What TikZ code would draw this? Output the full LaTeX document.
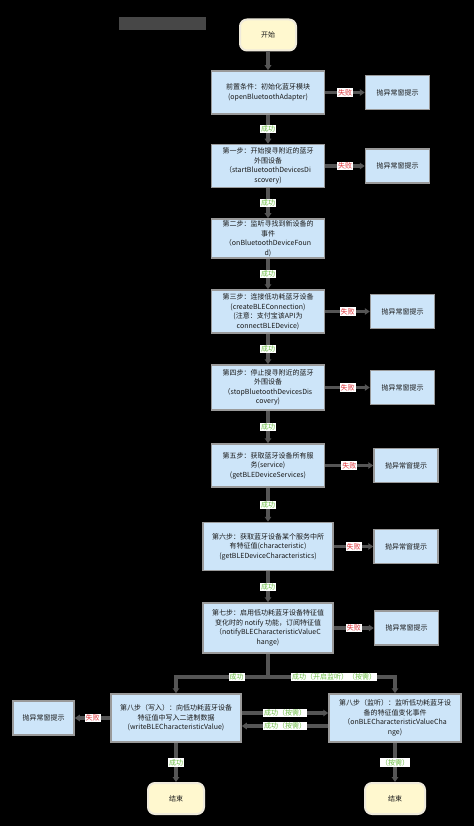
\documentclass[tikz,border=0pt]{standalone}
\usepackage{fontspec}
\setmainfont{Noto Sans CJK SC}
\usepackage{xcolor}
\usetikzlibrary{arrows.meta}
\definecolor{boxblue}{HTML}{CDE5F9}
\definecolor{boxline}{HTML}{9A9A9A}
\definecolor{termyellow}{HTML}{FFF8CF}
\definecolor{termline}{HTML}{EFEADB}
\definecolor{linkgray}{HTML}{555555}
\definecolor{okgreen}{HTML}{6DBE45}
\definecolor{badred}{HTML}{E0353B}

\begin{document}
\begin{tikzpicture}[x=1pt, y=-1pt, font=\fontsize{7}{9.5}\selectfont,
    stepbox/.style = {draw=boxline, line width=1.5pt, fill=boxblue, align=center,
      text=black!90, inner sep=1pt, minimum width=113pt, minimum height=43pt},
    widebox/.style = {stepbox, minimum width=130pt, minimum height=48pt},
    failbox/.style = {stepbox, minimum width=64pt, minimum height=34pt},
    term/.style = {draw=termline, line width=2pt, fill=termyellow, rounded corners=7pt,
      text=black!90, minimum width=56pt, minimum height=31pt},
    trunk/.style = {draw=linkgray, line width=3.5pt},
    link/.style = {trunk, -{Triangle[length=5pt,width=6.5pt]}},
    ok/.style = {fill=white, text=okgreen, inner sep=1pt, font=\fontsize{7}{7.5}\selectfont},
    bad/.style = {ok, text=badred}]
\fill[black] (0,0) rectangle (474,826);
\fill[black!72] (119,17) rectangle (206,30);

\node[term] (start) at (268,35) {开始};
\node[stepbox] (s0) at (268,92.5) {前置条件：初始化蓝牙模块\\(openBluetoothAdapter)};
\node[failbox] (f0) at (397.5,92.5) {抛异常窗提示};
\node[stepbox] (s1) at (268,166) {第一步：开始搜寻附近的蓝牙\\外围设备\\（startBluetoothDevicesDi\\scovery)};
\node[failbox] (f1) at (397.5,166) {抛异常窗提示};
\node[stepbox, minimum height=39pt] (s2) at (268,238.5) {第二步：监听寻找到新设备的\\事件\\（onBluetoothDeviceFoun\\d)};
\node[stepbox] (s3) at (268,311.5) {第三步：连接低功耗蓝牙设备\\(createBLEConnection)\\(注意：支付宝该API为\\connectBLEDevice)};
\node[failbox] (f3) at (402.5,311.5) {抛异常窗提示};
\node[stepbox, minimum height=45pt] (s4) at (268,387.5) {第四步：停止搜寻附近的蓝牙\\外围设备\\（stopBluetoothDevicesDis\\covery)};
\node[failbox] (f4) at (402.5,387.5) {抛异常窗提示};
\node[stepbox] (s5) at (268,465.5) {第五步：获取蓝牙设备所有服\\务(service)\\(getBLEDeviceServices)};
\node[failbox] (f5) at (406,465.5) {抛异常窗提示};
\node[widebox] (s6) at (268,546.5) {第六步：获取蓝牙设备某个服务中所\\有特征值(characteristic)\\(getBLEDeviceCharacteristics)};
\node[failbox] (f6) at (406,546.5) {抛异常窗提示};
\node[widebox, minimum height=50pt] (s7) at (268,628) {第七步：启用低功耗蓝牙设备特征值\\变化时的 notify 功能，订阅特征值\\（notifyBLECharacteristicValueC\\hange)};
\node[failbox] (f7) at (406.5,628) {抛异常窗提示};
\node[widebox] (w8) at (176,718) {第八步（写入）：向低功耗蓝牙设备\\特征值中写入二进制数据\\(writeBLECharacteristicValue)};
\node[failbox, minimum width=61pt] (f8) at (43.5,718) {抛异常窗提示};
\node[widebox, minimum width=132pt] (n8) at (395,718) {第八步（监听）：监听低功耗蓝牙设\\备的特征值变化事件\\（onBLECharacteristicValueCha\\nge)};
\node[term] (e1) at (176,798.5) {结束};
\node[term, minimum width=60pt] (e2) at (395,798.5) {结束};
\coordinate (fork) at (268,677);

\draw[link] (start) -- (s0);
\draw[link] (s0) -- node[ok] {成功} (s1);
\draw[link] (s1) -- node[ok] {成功} (s2);
\draw[link] (s2) -- node[ok] {成功} (s3);
\draw[link] (s3) -- node[ok] {成功} (s4);
\draw[link] (s4) -- node[ok] {成功} (s5);
\draw[link] (s5) -- node[ok] {成功} (s6);
\draw[link] (s6) -- node[ok] {成功} (s7);
\draw[link] (s0) -- node[bad] {失败} (f0);
\draw[link] (s1) -- node[bad] {失败} (f1);
\draw[link] (s3) -- node[bad] {失败} (f3);
\draw[link] (s4) -- node[bad] {失败} (f4);
\draw[link] (s5) -- node[bad] {失败} (f5);
\draw[link] (s6) -- node[bad] {失败} (f6);
\draw[link] (s7) -- node[bad] {失败} (f7);
\draw[trunk] (s7) -- (fork);
\draw[link] (fork) -| node[ok, pos=0.17] {成功} (w8.north);
\draw[link] (fork) -| node[ok, pos=0.26] {成功（开启监听）（按需）} (n8.north);
\draw[link] (w8) -- node[bad] {失败} (f8);
\draw[link] ([yshift=5pt]w8.east) -- node[ok] {成功（按需）} ([yshift=5pt]n8.west);
\draw[link] ([yshift=-8pt]n8.west) -- node[ok] {成功（按需）} ([yshift=-8pt]w8.east);
\draw[link] (w8) -- node[ok] {成功} (e1);
\draw[link] (n8) -- node[ok] {（按需）} (e2);
\end{tikzpicture}
\end{document}
